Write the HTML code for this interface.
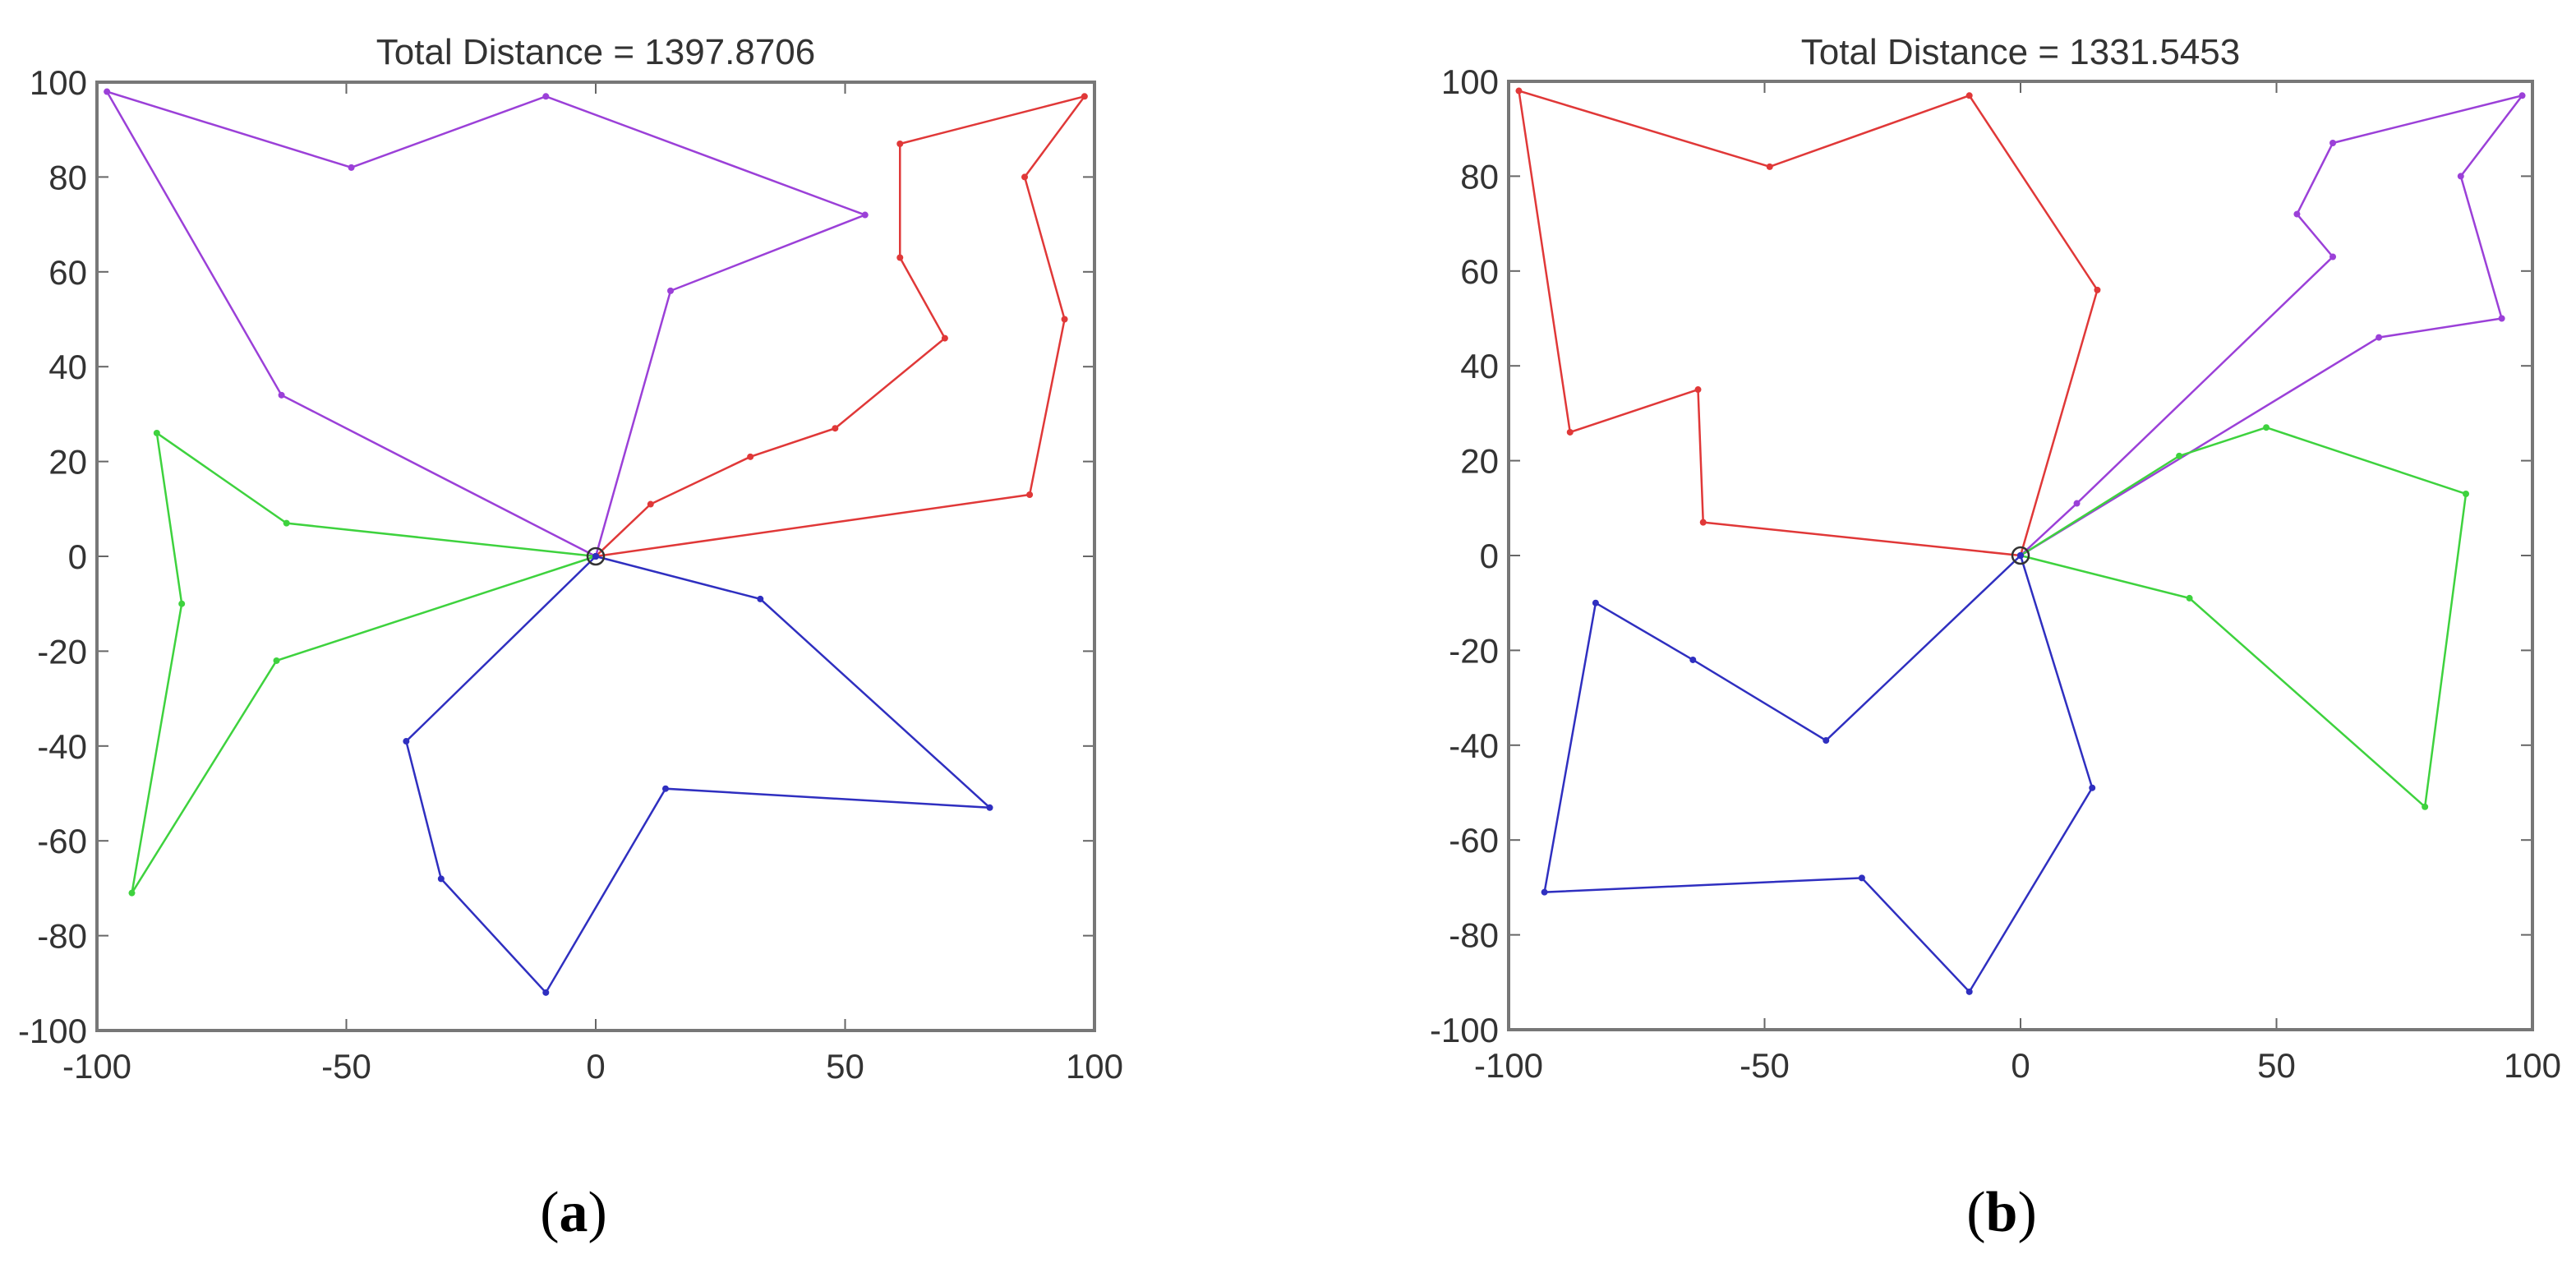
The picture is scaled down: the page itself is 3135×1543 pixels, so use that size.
<!DOCTYPE html>
<html><head><meta charset="utf-8"><style>
body{margin:0;background:#fff;width:3135px;height:1543px;overflow:hidden}
svg{position:absolute;left:0;top:0}
text{font-family:"Liberation Sans",sans-serif;fill:#333}
</style></head><body>
<svg id="s" width="3135" height="1543"></svg>
<script>
const titles=["Total Distance = 1397.8706","Total Distance = 1331.5453"];
const panelLabels=["a","b"];
const ticks=[-100,-80,-60,-40,-20,0,20,40,60,80,100];
const xticks=[-100,-50,0,50,100];
const colors={purple:"#9b40d8",red:"#e03838",green:"#3ed23e",blue:"#2f2fc0"};
// panel a routes
const aPurpleX=[0,15,54,-10,-49,-98,-63,0];
const aPurpleY=[0,56,72,97,82,98,34,0];
const aRedX=[0,11,31,48,70,61,61,98,86,94,87,0];
const aRedY=[0,11,21,27,46,63,87,97,80,50,13,0];
const aGreenX=[0,-62,-88,-83,-93,-64,0];
const aGreenY=[0,7,26,-10,-71,-22,0];
const aBlueX=[0,33,79,14,-10,-31,-38,0];
const aBlueY=[0,-9,-53,-49,-92,-68,-39,0];
// panel b routes
const bRedX=[0,-62,-63,-88,-98,-49,-10,15,0];
const bRedY=[0,7,35,26,98,82,97,56,0];
const bPurpleX=[0,11,61,54,61,98,86,94,70,0];
const bPurpleY=[0,11,63,72,87,97,80,50,46,0];
const bGreenX=[0,31,48,87,79,33,0];
const bGreenY=[0,21,27,13,-53,-9,0];
const bBlueX=[0,14,-10,-31,-93,-83,-64,-38,0];
const bBlueY=[0,-49,-92,-68,-71,-10,-22,-39,0];

const panels=[
 {L:118,R:1332,T:100,B:1254,cx:698,routes:[["purple",aPurpleX,aPurpleY],["red",aRedX,aRedY],["green",aGreenX,aGreenY],["blue",aBlueX,aBlueY]]},
 {L:1836,R:3082,T:99,B:1253,cx:2436,routes:[["red",bRedX,bRedY],["purple",bPurpleX,bPurpleY],["green",bGreenX,bGreenY],["blue",bBlueX,bBlueY]]}
];
const NS="http://www.w3.org/2000/svg";
const svg=document.getElementById("s");
function mk(tag,attrs,parent){const e=document.createElementNS(NS,tag);for(const k in attrs)e.setAttribute(k,attrs[k]);(parent||svg).appendChild(e);return e;}
panels.forEach((p,pi)=>{
 const g=mk("g",{});
 
 
 const sx=v=>p.L+(v+100)/200*(p.R-p.L);
 const sy=v=>p.B-(v+100)/200*(p.B-p.T);
 const t=mk("text",{x:(p.L+p.R)/2,y:78,"font-size":44,"text-anchor":"middle"},g);
 t.textContent=titles[pi];
 
 
 ticks.forEach(v=>{
  mk("line",{x1:p.L,x2:p.L+14,y1:sy(v),y2:sy(v),stroke:"#666","stroke-width":2},g);
  mk("line",{x1:p.R,x2:p.R-14,y1:sy(v),y2:sy(v),stroke:"#666","stroke-width":2},g);
  const l=mk("text",{x:p.L-12,y:sy(v)+15,"font-size":42,"text-anchor":"end"},g);
  l.textContent=v;
  
  
 });
 xticks.forEach(v=>{
  mk("line",{x1:sx(v),x2:sx(v),y1:p.B,y2:p.B-14,stroke:"#666","stroke-width":2},g);
  mk("line",{x1:sx(v),x2:sx(v),y1:p.T,y2:p.T+14,stroke:"#666","stroke-width":2},g);
  const l=mk("text",{x:sx(v),y:p.B+58,"font-size":42,"text-anchor":"middle"},g);
  l.textContent=v;
  
  
 });
 const box=mk("rect",{x:p.L,y:p.T,width:p.R-p.L,height:p.B-p.T,fill:"none",stroke:"#777","stroke-width":4},g);
 
 
 p.routes.forEach(([c,xs,ys])=>{
  const pts=xs.map((x,i)=>sx(x)+","+sy(ys[i])).join(" ");
  const pl=mk("polyline",{points:pts,fill:"none",stroke:colors[c],"stroke-width":2.5},g);
  
  
  xs.forEach((x,i)=>{
   const d=mk("circle",{cx:sx(x),cy:sy(ys[i]),r:4,fill:colors[c]},g);
   
   
  });
 });
 const dep=mk("circle",{cx:sx(0),cy:sy(0),r:10,fill:"none",stroke:"#333","stroke-width":2.5},g);
 
 
 const lab=mk("text",{x:p.cx,y:1498,"font-size":70,"text-anchor":"middle",style:"font-family:'Liberation Serif',serif;fill:#000"},g);
 lab.innerHTML='(<tspan font-weight="bold">'+panelLabels[pi]+'</tspan>)';
 
 
});
</script>
</body></html>
